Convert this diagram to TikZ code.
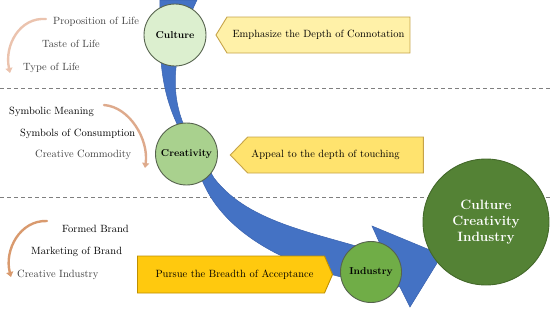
\documentclass[tikz,border=0pt]{standalone}
\usetikzlibrary{shapes.symbols,arrows.meta}
\definecolor{bandblue}{HTML}{4472C4}
\definecolor{bandedge}{HTML}{3A62AE}
\definecolor{cultgreen}{HTML}{DCEFCF}
\definecolor{creagreen}{HTML}{A9D18E}
\definecolor{indgreen}{HTML}{70AD47}
\definecolor{biggreen}{HTML}{548235}
\definecolor{circedge}{HTML}{56634E}
\definecolor{yellowA}{HTML}{FFF1A8}
\definecolor{yellowB}{HTML}{FFE36E}
\definecolor{yellowC}{HTML}{FFC90E}
\definecolor{goldedge}{HTML}{C6A348}
\definecolor{goldedgeC}{HTML}{BF9000}
\definecolor{dashgray}{HTML}{7F7F7F}
\definecolor{txtgray}{HTML}{404040}
\definecolor{peachA}{HTML}{EBC3AE}
\definecolor{peachB}{HTML}{DEAA8C}
\definecolor{peachC}{HTML}{D99A6E}
\tikzset{
  stage/.style={circle, draw=circedge, line width=0.9pt, minimum size=62pt, inner sep=0pt, font=\bfseries\fontsize{10}{12}\selectfont, text=black},
  callout/.style={signal, draw=goldedge, line width=0.9pt, minimum height=36pt, inner sep=2pt, font=\fontsize{10.5}{12}\selectfont, text=black},
  listtxt/.style={anchor=west, inner sep=0pt, font=\fontsize{10.5}{12}\selectfont},
  sepline/.style={draw=dashgray, line width=0.8pt, dash pattern=on 4pt off 3pt},
  curlarrow/.style={line width=2.4pt, line cap=round, -{Triangle[length=5pt,width=7pt]}},
}
\begin{document}
\begin{tikzpicture}[x=1pt,y=-1pt]
\useasboundingbox (0,0) rectangle (550,309);
% separators
\coordinate (s1a) at (0,88); \coordinate (s1b) at (550,88);
\coordinate (s2a) at (0,197); \coordinate (s2b) at (550,197);
\draw[sepline] (s1a) -- (s1b);
\draw[sepline] (s2a) -- (s2b);
% blue band
\fill[bandblue, draw=bandedge, line width=0.5pt]
  (160,0) .. controls (158,60) and (162,95) .. (180,130)
  -- (202,180) .. controls (225,237) and (300,277) .. (400,287)
  -- (410,307) -- (442,255) -- (372,226) -- (385,255)
  .. controls (320,233) and (250,225) .. (214,178)
  -- (186,130) .. controls (172,100) and (168,60) .. (197,0) -- cycle;
% stage circles
\node[stage, fill=cultgreen] (culture) at (175,35) {Culture};
\node[stage, fill=creagreen] (creativity) at (186.5,154) {Creativity};
\node[stage, fill=indgreen, minimum size=61pt] (industry) at (371,272) {Industry};
\node[circle, draw=biggreen!80!black, line width=0.9pt, fill=biggreen, minimum size=126pt, inner sep=0pt,
      text=white, align=center, font=\bfseries\fontsize{13.5}{16}\selectfont] (cci) at (486,222) {Culture\\Creativity\\Industry};
% callouts
\node[callout, fill=yellowA, signal to=west, signal pointer angle=117, minimum width=194pt] (c1) at (318.5,35) {Emphasize the Depth of Connotation};
\node[callout, fill=yellowB, signal to=west, signal pointer angle=92, minimum width=193pt] (c2) at (335.5,155) {Appeal to the depth of touching\hspace*{20pt}};
\node[callout, fill=yellowC, draw=goldedgeC, signal to=east, signal pointer angle=133, minimum width=195pt, minimum height=37pt] (c3) at (231,274.5) {\hspace*{7pt}Pursue the Breadth of Acceptance};
% list texts
\node[listtxt, text=txtgray] (l1a) at (53,22) {Proposition of Life};
\node[listtxt, text=txtgray] (l1b) at (42,44) {Taste of Life};
\node[listtxt, text=txtgray] (l1c) at (23,68) {Type of Life};
\node[listtxt, text=black] (l2a) at (9,112) {Symbolic Meaning};
\node[listtxt, text=black] (l2b) at (20,134) {Symbols of Consumption};
\node[listtxt, text=txtgray] (l2c) at (35,155) {Creative Commodity};
\node[listtxt, text=black] (l3a) at (62,229) {Formed Brand};
\node[listtxt, text=black] (l3b) at (31,252) {Marketing of Brand};
\node[listtxt, text=txtgray] (l3c) at (17,275) {Creative Industry};
% curl arrows
\coordinate (a1s) at (46,19); \coordinate (a1e) at (10,73);
\coordinate (a2s) at (104,105); \coordinate (a2e) at (145,168);
\coordinate (a3s) at (47,221); \coordinate (a3e) at (11,277);
\draw[curlarrow, draw=peachA] (a1s) .. controls (20,17) and (4,45) .. (a1e);
\draw[curlarrow, draw=peachB] (a2s) .. controls (130,107) and (149,140) .. (a2e);
\draw[curlarrow, draw=peachC] (a3s) .. controls (20,220) and (4,250) .. (a3e);
\end{tikzpicture}
\end{document}
